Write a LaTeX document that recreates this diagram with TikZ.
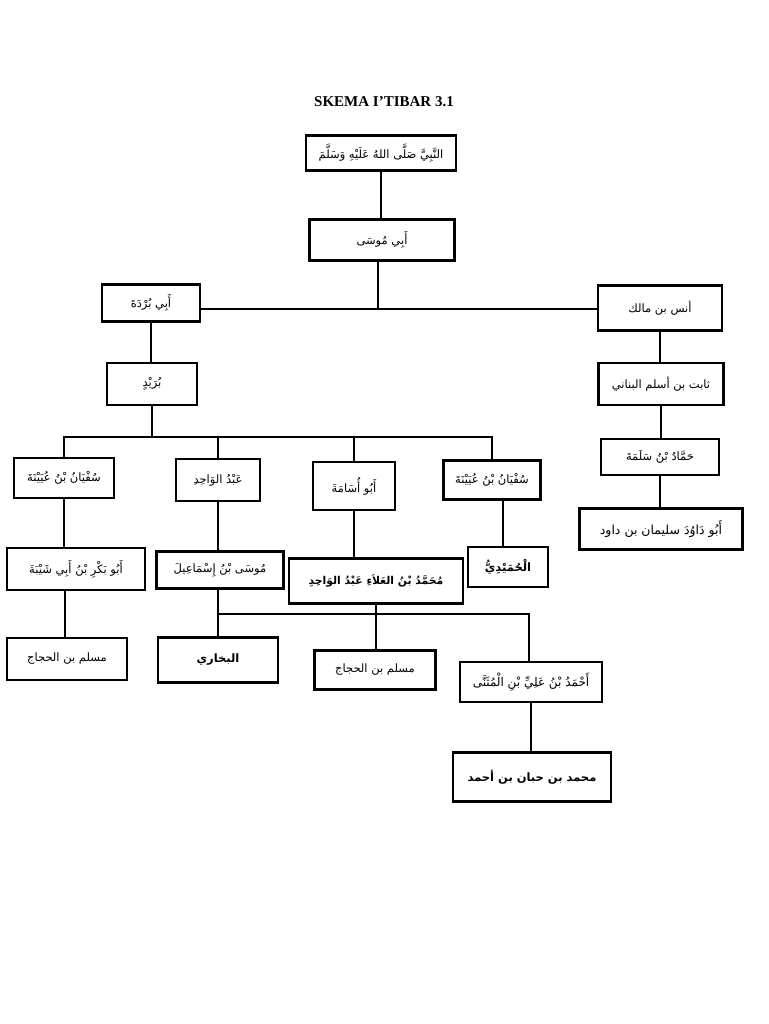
\documentclass[tikz,border=0pt]{standalone}
\usepackage{fontspec}
\setmainfont{Liberation Serif}
\newfontfamily\arabicfont[Script=Arabic]{DejaVu Sans}
\TeXXeTstate=1
\newcommand{\ar}[1]{\beginR #1\endR}
\tikzset{
  box/.style={draw, line width=2.4pt, inner sep=0pt, align=center,
    font=\arabicfont\fontsize{11.5}{14}\selectfont},
  bbox/.style={box, font=\arabicfont\bfseries\fontsize{11.5}{14}\selectfont},
  conn/.style={line width=2pt},
}
\begin{document}
\begin{tikzpicture}[x=1pt,y=-1pt]
\useasboundingbox[fill=white] (0,0) rectangle (768,1024);
\node[font=\bfseries\fontsize{15}{18}\selectfont] (title) at (384,102) {SKEMA I’TIBAR 3.1};

\node[box, minimum width=150, minimum height=35] (prophet) at (381,153) {\ar{النَّبِيَّ صَلَّى اللهُ عَلَيْهِ وَسَلَّمَ}};
\node[box, minimum width=145, minimum height=41] (musa) at (382,240) {\ar{أَبِي مُوسَى}};
\node[box, minimum width=98, minimum height=37] (burdah) at (151,303) {\ar{أَبِي بُرْدَةَ}};
\node[box, minimum width=90, minimum height=42] (buraid) at (152,384) {\ar{بُرَيْدٍ}};
\node[box, minimum width=124, minimum height=45] (anas) at (660,308) {\ar{أنس بن مالك}};
\node[box, minimum width=125, minimum height=42] (thabit) at (661,384) {\ar{ثابت بن أسلم البناني}};
\node[box, minimum width=118, minimum height=36] (hammad) at (660,457) {\ar{حَمَّادُ بْنُ سَلَمَةَ}};
\node[box, minimum width=163, minimum height=41, font=\arabicfont\fontsize{12.5}{14}\selectfont] (dawud) at (661,529) {\ar{أَبُو دَاوُدَ سليمان بن داود}};

\node[box, minimum width=100, minimum height=40] (sufyanL) at (64,478) {\ar{سُفْيَانُ بْنُ عُيَيْنَةَ}};
\node[box, minimum width=84, minimum height=42] (wahid) at (218,480) {\ar{عَبْدُ الوَاحِدِ}};
\node[box, minimum width=82, minimum height=48] (usamah) at (354,486) {\ar{أَبُو أُسَامَةَ}};
\node[box, minimum width=97, minimum height=39] (sufyanR) at (492,480) {\ar{سُفْيَانُ بْنُ عُيَيْنَةَ}};

\node[box, minimum width=138, minimum height=42] (abubakr) at (76,569) {\ar{أَبُو بَكْرِ بْنُ أَبِي شَيْبَةَ}};
\node[box, minimum width=127, minimum height=37] (musaism) at (220,570) {\ar{مُوسَى بْنُ إِسْمَاعِيلَ}};
\node[bbox, minimum width=174, minimum height=45, font=\arabicfont\bfseries\fontsize{10.8}{13}\selectfont] (mala) at (376,581) {\ar{مُحَمَّدُ بْنُ العَلاَءِ عَبْدُ الوَاحِدِ}};
\node[bbox, minimum width=80, minimum height=40] (humaydi) at (508,567) {\ar{الْحُمَيْدِيُّ}};

\node[box, minimum width=120, minimum height=42] (muslimL) at (67,659) {\ar{مسلم بن الحجاج}};
\node[bbox, minimum width=120, minimum height=45] (bukhari) at (218,660) {\ar{البخاري}};
\node[box, minimum width=121, minimum height=39] (muslimM) at (375,670) {\ar{مسلم بن الحجاج}};
\node[box, minimum width=142, minimum height=40, font=\arabicfont\fontsize{12}{14}\selectfont] (ahmad) at (531,682) {\ar{أَحْمَدُ بْنُ عَلِيِّ بْنِ الْمُثَنَّى}};
\node[bbox, minimum width=158, minimum height=49] (hibban) at (532,777) {\ar{محمد بن حبان بن أحمد}};

% junctions
\coordinate (j1) at (378,309);
\coordinate (j2) at (152,437);
\coordinate (j3) at (218,614);
\coordinate (j4) at (529,614);

\draw[conn] (prophet.south) -- (prophet.south |- musa.north);
\draw[conn] (j1 |- musa.south) -- (j1);
\draw[conn] (burdah.east |- j1) -- (anas.west |- j1);
\draw[conn] (burdah.south) -- (burdah.south |- buraid.north);
\draw[conn] (anas.south) -- (anas.south |- thabit.north);
\draw[conn] (thabit.south) -- (thabit.south |- hammad.north);
\draw[conn] (hammad.south) -- (hammad.south |- dawud.north);

\draw[conn] (j2 |- buraid.south) -- (j2);
\draw[conn] (sufyanL.north) |- (j2) -| (sufyanR.north);
\draw[conn] (wahid.north |- j2) -- (wahid.north);
\draw[conn] (usamah.north |- j2) -- (usamah.north);

\draw[conn] (sufyanL.south) -- (sufyanL.south |- abubakr.north);
\draw[conn] (wahid.south) -- (wahid.south |- musaism.north);
\draw[conn] (usamah.south) -- (usamah.south |- mala.north);
\draw[conn] (sufyanR.south) ++(11,0) coordinate (sr) -- (sr |- humaydi.north);

\draw[conn] (abubakr.south) ++(-11,0) coordinate (ab) -- (ab |- muslimL.north);
\draw[conn] (j3 |- musaism.south) -- (j3 |- bukhari.north);
\draw[conn] (j3) -- (j4) -- (j4 |- ahmad.north);
\draw[conn] (mala.south) -- (mala.south |- muslimM.north);
\draw[conn] (ahmad.south) -- (ahmad.south |- hibban.north);
\end{tikzpicture}
\end{document}
